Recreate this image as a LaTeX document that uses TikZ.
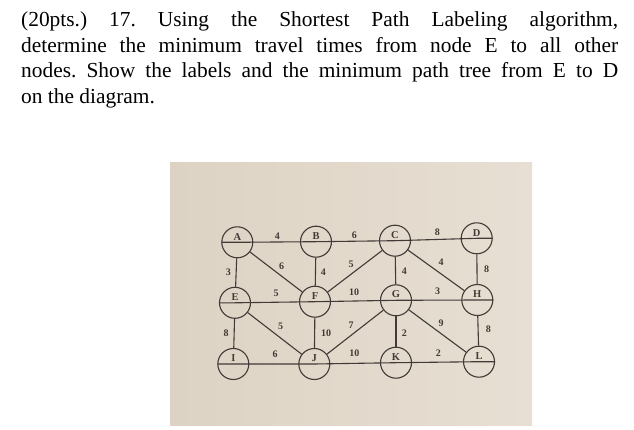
\documentclass[tikz,border=0pt]{standalone}
\usepackage{fontspec}
\setmainfont{Liberation Serif}
\begin{document}
\begin{tikzpicture}[x=1pt,y=-1pt]
\definecolor{paperL}{RGB}{221,211,196}
\definecolor{paperR}{RGB}{231,223,211}
\definecolor{ink}{RGB}{66,58,54}
\tikzset{
  vert/.style={circle,draw=ink,line width=1.1pt,minimum size=31pt,inner sep=0pt},
  lett/.style={anchor=south,inner sep=0pt,text=ink,font=\fontsize{10.5}{12}\selectfont\bfseries},
  wt/.style={inner sep=0pt,text=ink,font=\fontsize{10}{12}\selectfont\bfseries},
  edge/.style={draw=ink,line width=1.1pt},
  qtext/.style={anchor=base west,text width=597pt,align=justify,inner sep=0pt,
    font=\fontsize{21.4}{25.5}\selectfont}
}
\useasboundingbox (0,0) rectangle (634,430);
\fill[white] (0,0) rectangle (634,430);
% question text
\node[qtext] (q) at (21,27) {\frenchspacing\tolerance=10000\hbadness=10000\noindent
(20pts.) 17. Using the Shortest Path Labeling algorithm,\linebreak
determine the minimum travel times from node E to all other\linebreak
nodes. Show the labels and the minimum path tree from E to D\linebreak
on the diagram.};
% photo background
\shade[left color=paperL,right color=paperR] (170,163) rectangle (532,425);
% vertices
\node[vert] (A) at (237.3,242.3) {};
\node[vert] (B) at (316,241.7) {};
\node[vert] (C) at (395,240.7) {};
\node[vert] (D) at (476.7,238.3) {};
\node[vert] (E) at (235,302.8) {};
\node[vert] (F) at (315,301.7) {};
\node[vert] (G) at (396,300.3) {};
\node[vert] (H) at (477.3,300) {};
\node[vert] (I) at (233.3,364) {};
\node[vert] (J) at (314.3,364) {};
\node[vert] (K) at (396,362.7) {};
\node[vert] (L) at (479,361.7) {};
% letters
\foreach \n in {A,B,C,D,E,F,G,H,I,J,K,L}{
  \node[lett] (t\n) at ([yshift=2pt]\n.center) {\n};
}
% horizontal rows (pass through circle diameters)
\draw[edge] (A.west) -- (A.center) -- (B.center) -- (C.center) -- (D.center) -- (D.east);
\draw[edge] (E.west) -- (E.center) -- (F.center) -- (G.center) -- (H.center) -- (H.east);
\draw[edge] (I.west) -- (I.center) -- (J.center) -- (K.center) -- (L.center) -- (L.east);
% other edges
\draw[edge] (A) -- (E);
\draw[edge] (E) -- (I);
\draw[edge] (B) -- (F);
\draw[edge] (F) -- (J);
\draw[edge] (C) -- (G);
\draw[edge] (G) -- (K);
\draw[edge] (D) -- (H);
\draw[edge] (H) -- (L);
\draw[edge] (A) -- (F);
\draw[edge] (F) -- (C);
\draw[edge] (C) -- (H);
\draw[edge] (E) -- (J);
\draw[edge] (J) -- (G);
\draw[edge] (G) -- (L);
% weights
\node[wt] (wAB) at (277.3,236) {4};
\node[wt] (wBC) at (354.3,235) {6};
\node[wt] (wCD) at (437.3,232.7) {8};
\node[wt] (wAE) at (228.3,272.7) {3};
\node[wt] (wAF) at (281.7,266) {6};
\node[wt] (wBF) at (323.3,272.7) {4};
\node[wt] (wFC) at (351,264) {5};
\node[wt] (wCG) at (404.3,271) {4};
\node[wt] (wCH) at (441,262.7) {4};
\node[wt] (wDH) at (486.7,269.3) {8};
\node[wt] (wEF) at (276,293) {5};
\node[wt] (wFG) at (354,292.5) {10};
\node[wt] (wGH) at (437.7,291.5) {3};
\node[wt] (wEI) at (226,333.3) {8};
\node[wt] (wEJ) at (280.7,326) {5};
\node[wt] (wFJ) at (326,333.3) {10};
\node[wt] (wGJ) at (351,325) {7};
\node[wt] (wGK) at (404.3,332.7) {2};
\node[wt] (wGL) at (441,323.3) {9};
\node[wt] (wHL) at (488.3,329.3) {8};
\node[wt] (wIJ) at (275,354.3) {6};
\node[wt] (wJK) at (354.3,353.3) {10};
\node[wt] (wKL) at (438.3,353.3) {2};
\end{tikzpicture}
\end{document}
